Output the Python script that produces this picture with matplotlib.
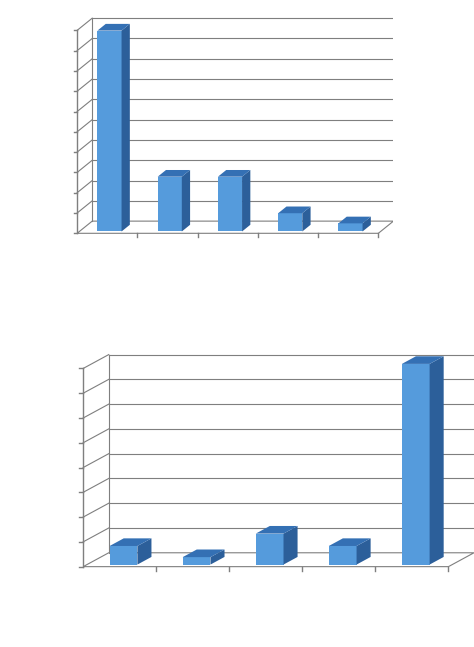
import matplotlib
matplotlib.use("Agg")
import matplotlib.pyplot as plt
from matplotlib.patches import Polygon

top_values = [9.9, 2.7, 2.7, 0.9, 0.4]
top_max = 10
bottom_values = [0.75, 0.3, 1.25, 0.75, 8.1]
bottom_max = 8

FRONT = "#559bdc"
SIDE = "#2c5f9a"
TOP = "#3470b4"
GRID = "#7f7f7f"


def panel(ax, values, ymax, dx, dyf, w):
    n = len(values)
    dy = ymax * dyf
    # floor
    ax.add_patch(Polygon([(0, 0), (n, 0), (n + dx, dy), (dx, dy)],
                         closed=True, fill=False, ec=GRID, lw=0.8, zorder=1))
    # gridlines on back wall and side wall
    for v in range(1, ymax + 1):
        ax.plot([dx, n + dx], [v + dy, v + dy], color=GRID, lw=0.8, zorder=1)
        ax.plot([0, dx], [v, v + dy], color=GRID, lw=0.8, zorder=1)
    ax.plot([dx, dx], [dy, ymax + dy], color=GRID, lw=0.8, zorder=1)
    # left axis and ticks
    ax.plot([0, 0], [0, ymax], color=GRID, lw=1.0, zorder=1)
    for v in range(0, ymax + 1):
        ax.plot([-0.06, 0], [v, v], color=GRID, lw=1.0, zorder=1)
    for i in range(1, n + 1):
        ax.plot([i, i], [0, -ymax * 0.02], color=GRID, lw=1.0, zorder=1)
    # bars
    bdx, bdy = dx * 0.55, dy * 0.55
    for i, v in enumerate(values):
        x0 = i + 0.5 - w / 2 + dx * 0.15
        y0 = dy * 0.15
        ax.add_patch(Polygon([(x0, y0), (x0 + w, y0), (x0 + w, y0 + v), (x0, y0 + v)],
                             closed=True, fc=FRONT, ec="none", zorder=3))
        ax.add_patch(Polygon([(x0 + w, y0), (x0 + w + bdx, y0 + bdy),
                              (x0 + w + bdx, y0 + v + bdy), (x0 + w, y0 + v)],
                             closed=True, fc=SIDE, ec="none", zorder=3))
        ax.add_patch(Polygon([(x0, y0 + v), (x0 + w, y0 + v),
                              (x0 + w + bdx, y0 + v + bdy), (x0 + bdx, y0 + v + bdy)],
                             closed=True, fc=TOP, ec="none", zorder=3))
    ax.set_xlim(-0.1, n + dx)
    ax.set_ylim(-ymax * 0.03, ymax + dy + ymax * 0.01)
    ax.axis("off")


fig = plt.figure(figsize=(4.74, 6.47), dpi=100)
ax1 = fig.add_axes([0.15, 0.63, 0.68, 0.345])
panel(ax1, top_values, top_max, 0.25, 0.06, 0.4)
ax2 = fig.add_axes([0.16, 0.115, 0.84, 0.34])
panel(ax2, bottom_values, bottom_max, 0.35, 0.07, 0.38)
fig.savefig("out.png", dpi=100)
